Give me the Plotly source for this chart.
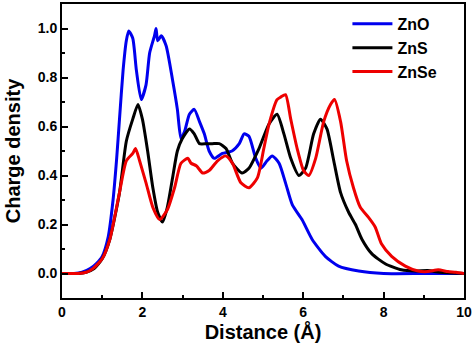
import plotly.graph_objects as go

# ZnO
zno_x = [0, 0.3, 0.5, 0.7, 0.85, 1.0, 1.15, 1.27, 1.36, 1.43, 1.52, 1.6, 1.66, 1.76, 1.85, 1.97, 2.09, 2.18, 2.3, 2.34, 2.38, 2.47, 2.59, 2.75, 2.87, 2.96, 3.05, 3.17, 3.29, 3.42, 3.54, 3.66, 3.79, 3.99, 4.23, 4.41, 4.53, 4.65, 4.82, 4.95, 5.1, 5.23, 5.4, 5.56, 5.73, 5.97, 6.22, 6.55, 6.88, 7.38, 8.0, 9.0, 10.0]
zno_y = [0.0, 0.0, 0.005, 0.02, 0.04, 0.07, 0.15, 0.30, 0.47, 0.63, 0.83, 0.95, 0.99, 0.96, 0.83, 0.71, 0.77, 0.90, 0.97, 1.0, 0.95, 0.97, 0.93, 0.79, 0.67, 0.55, 0.58, 0.65, 0.67, 0.62, 0.57, 0.50, 0.47, 0.49, 0.50, 0.53, 0.57, 0.56, 0.47, 0.43, 0.46, 0.48, 0.45, 0.37, 0.28, 0.22, 0.14, 0.07, 0.03, 0.01, 0.0, 0.0, 0.0]

# ZnS
zns_x = [0, 0.4, 0.6, 0.8, 1.0, 1.19, 1.43, 1.6, 1.76, 1.89, 2.0, 2.13, 2.26, 2.38, 2.5, 2.62, 2.75, 2.87, 2.99, 3.17, 3.29, 3.42, 3.59, 3.74, 3.91, 4.08, 4.24, 4.48, 4.65, 4.9, 5.15, 5.35, 5.52, 5.69, 5.89, 6.06, 6.26, 6.43, 6.59, 6.76, 6.93, 7.13, 7.3, 7.46, 7.71, 8.04, 8.44, 8.8, 9.1, 9.4, 10.0]
zns_y = [0.0, 0.0, 0.005, 0.02, 0.06, 0.14, 0.33, 0.54, 0.63, 0.69, 0.63, 0.50, 0.35, 0.25, 0.21, 0.27, 0.39, 0.50, 0.55, 0.59, 0.57, 0.53, 0.53, 0.53, 0.53, 0.51, 0.45, 0.41, 0.43, 0.51, 0.61, 0.65, 0.57, 0.47, 0.40, 0.43, 0.57, 0.63, 0.59, 0.46, 0.33, 0.25, 0.20, 0.14, 0.08, 0.04, 0.015, 0.01, 0.012, 0.005, 0.0]

# ZnSe
znse_x = [0, 0.4, 0.6, 0.77, 1.0, 1.19, 1.43, 1.6, 1.76, 1.83, 1.93, 2.09, 2.26, 2.43, 2.62, 2.8, 2.96, 3.13, 3.21, 3.34, 3.5, 3.66, 3.87, 4.08, 4.24, 4.45, 4.65, 4.86, 5.02, 5.15, 5.35, 5.44, 5.56, 5.69, 5.85, 6.01, 6.14, 6.31, 6.51, 6.68, 6.78, 6.93, 7.08, 7.25, 7.42, 7.62, 7.79, 7.95, 8.2, 8.54, 8.86, 9.1, 9.36, 9.6, 9.8, 10.0]
znse_y = [0.0, 0.0, 0.005, 0.02, 0.06, 0.14, 0.33, 0.46, 0.49, 0.51, 0.46, 0.37, 0.27, 0.22, 0.26, 0.35, 0.45, 0.47, 0.45, 0.44, 0.41, 0.42, 0.46, 0.48, 0.45, 0.37, 0.35, 0.39, 0.51, 0.61, 0.71, 0.72, 0.73, 0.63, 0.51, 0.42, 0.40, 0.47, 0.62, 0.69, 0.71, 0.62, 0.46, 0.35, 0.27, 0.23, 0.19, 0.12, 0.07, 0.03, 0.01, 0.008, 0.015, 0.008, 0.005, 0.0]

FONT = "Arial, Liberation Sans, sans-serif"

fig = go.Figure()
for name, xs, ys, col in [("ZnO", zno_x, zno_y, "#0000ee"),
                          ("ZnS", zns_x, zns_y, "#000000"),
                          ("ZnSe", znse_x, znse_y, "#ee0000")]:
    fig.add_trace(go.Scatter(x=xs, y=ys, mode="lines", name=name,
                             line=dict(color=col, width=3, shape="spline", smoothing=0.6)))

axis_common = dict(showline=True, linecolor="black", linewidth=2, mirror=True,
                   ticks="inside", ticklen=6, tickwidth=2, tickcolor="black",
                   showgrid=False, zeroline=False,
                   tickfont=dict(family=FONT, size=14, color="black", weight="bold"))

fig.update_layout(
    width=474, height=345,
    margin=dict(l=62, r=8, t=2, b=47),
    plot_bgcolor="white", paper_bgcolor="white",
    xaxis=dict(range=[0, 10], dtick=2, tick0=0,
               minor=dict(ticks="inside", ticklen=3, tickwidth=2, dtick=1, tickcolor="black"),
               title=dict(text="Distance (Å)", standoff=5,
                          font=dict(family=FONT, size=20, color="black", weight="bold")),
               **axis_common),
    yaxis=dict(range=[-0.1, 1.1], dtick=0.2, tick0=0, tickformat=".1f",
               minor=dict(ticks="inside", ticklen=3, tickwidth=2, dtick=0.1, tickcolor="black"),
               title=dict(text="Charge density", standoff=12,
                          font=dict(family=FONT, size=20, color="black", weight="bold")),
               **axis_common),
    legend=dict(x=0.71, y=0.99, xanchor="left", yanchor="top",
                bgcolor="rgba(0,0,0,0)", tracegroupgap=0, itemwidth=40,
                font=dict(family=FONT, size=16, color="black", weight="bold")),
    showlegend=True,
)

fig.write_html("out.html")
